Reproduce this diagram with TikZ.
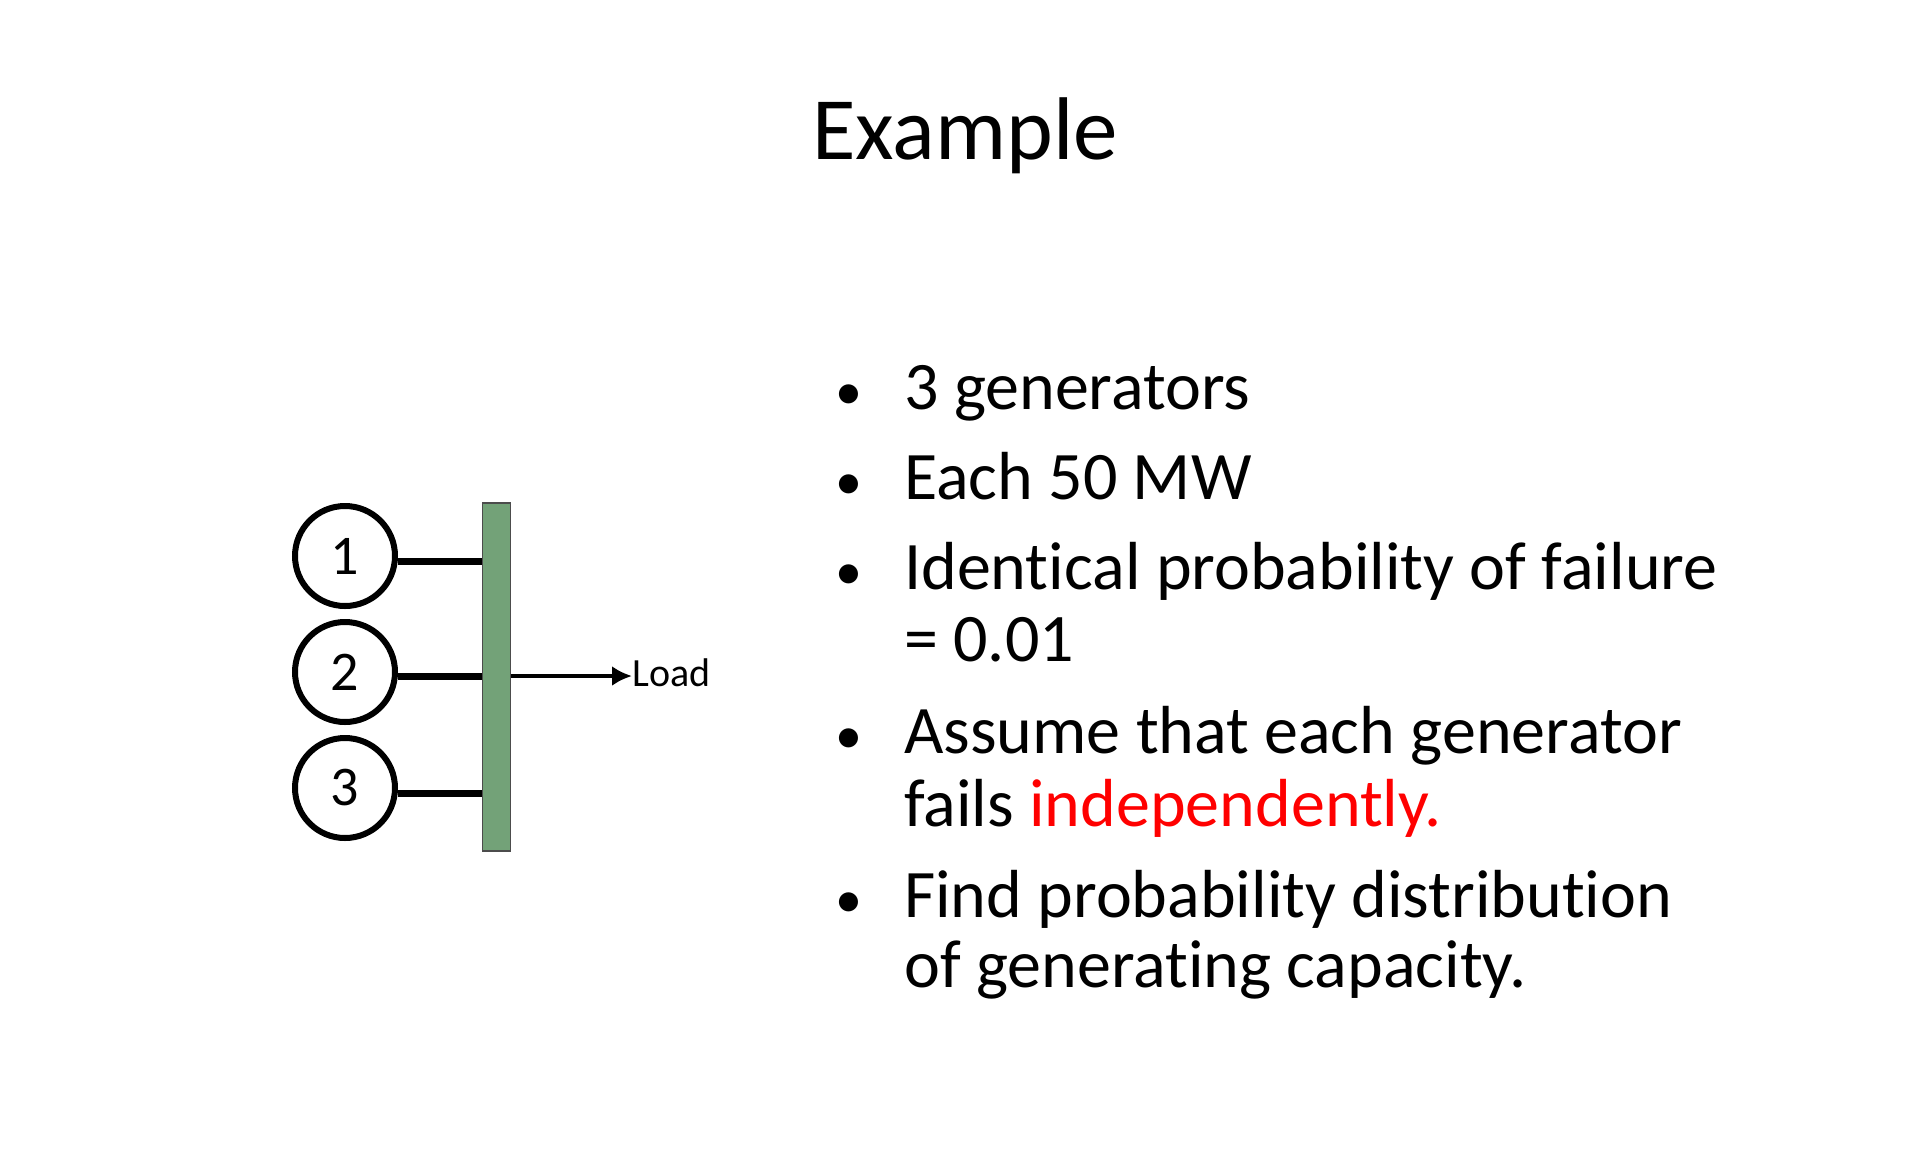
\documentclass[tikz,border=0pt]{standalone}
\usepackage{fontspec}
\usetikzlibrary{arrows.meta}
\setmainfont{Carlito}[Ligatures={NoCommon}]
\begin{document}
\begin{tikzpicture}[x=1pt,y=-1pt,
  gen/.style={circle,draw,line width=6pt,minimum size=100pt,inner sep=0pt,font=\fontsize{56}{64}\selectfont},
  wire/.style={line width=7pt},
  txt/.style={anchor=base west,inner sep=0pt,font=\fontsize{68}{80}\selectfont},
  bul/.style={anchor=base,inner sep=0pt,font=\fontsize{54}{64}\selectfont}]
\useasboundingbox (0,0) rectangle (1906,1168);
\node[anchor=base,inner sep=0pt,font=\fontsize{89}{100}\selectfont] (title) at (965,159) {Example};
\node[gen] (g1) at (345,556) {1};
\node[gen] (g2) at (345,672) {2};
\node[gen] (g3) at (345,788) {3};
\node[draw=black!70,line width=1.5pt,fill={rgb,255:red,115;green,162;blue,120},minimum width=28pt,minimum height=348pt,inner sep=0pt] (bus) at (496.5,677) {};
\draw[wire] (g1.east |- 0,561) -- (bus.west |- 0,561);
\draw[wire] (g2.east |- 0,676) -- (bus.west |- 0,676);
\draw[wire] (g3.east |- 0,793) -- (bus.west |- 0,793);
\node[anchor=west,inner sep=0pt,font=\fontsize{40}{48}\selectfont] (load) at (632,673) {Load};
\draw[line width=4pt,-{Latex[length=20pt,width=20pt]}] (bus.east |- 0,676) -- (load.west |- 0,676);
\foreach \y/\n in {409/b1,499/b2,589/b3,753/b4,917/b5}{\node[bul] (\n) at (849,\y) {\textbullet};}
\node[txt] (t1) at (904,409) {3 generators};
\node[txt] (t2) at (904,499) {Each 50 MW};
\node[txt] (t3) at (904,589) {Identical probability of failure};
\node[txt] (t3b) at (904,661) {= 0.01};
\node[txt] (t4) at (904,753) {Assume that each generator};
\node[txt] (t4b) at (904,826) {fails \textcolor{red}{independently.}};
\node[txt] (t5) at (904,917) {Find probability distribution};
\node[txt] (t5b) at (904,987) {of generating capacity.};
\end{tikzpicture}
\end{document}
